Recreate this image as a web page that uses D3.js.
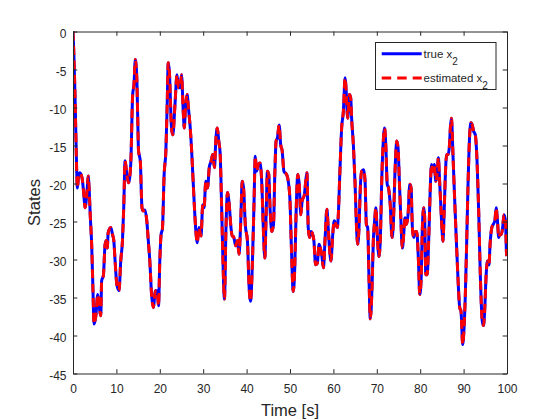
<!DOCTYPE html>
<html>
<head>
<meta charset="utf-8">
<script src="https://cdn.jsdelivr.net/npm/d3@7"></script>
<style>
  html, body { margin: 0; padding: 0; background: #ffffff; }
  svg { display: block; }
  text { font-family: "Liberation Sans", Arial, Helvetica, sans-serif; fill: #262626; }
</style>
</head>
<body>
<svg id="chart" width="560" height="420"></svg>
<script>
// ---- data ----
const timeS = [0,0.2,0.46,0.85,1.0,1.3,1.6,2.1,2.5,2.76,3.0,3.3,3.5,3.7,4.0,4.3,4.6,4.84,5.1,5.3,5.7,6.06,6.4,6.6,7.0,7.4,7.7,7.9,8.1,8.7,9.1,9.4,9.7,10.1,10.6,11.0,11.4,11.7,12.0,12.4,12.8,13.3,13.75,14.05,14.36,14.7,14.9,15.1,15.5,15.9,16.2,16.6,17.0,17.35,17.7,18.1,18.5,19.0,19.4,19.7,20.0,20.3,20.6,21.0,21.4,21.7,21.95,22.2,22.7,23.0,23.5,23.96,24.3,24.7,25.0,25.4,25.65,25.9,26.3,26.6,26.96,27.3,27.95,28.3,28.65,29.0,29.5,29.9,30.2,30.6,31.0,31.4,31.8,32.2,32.6,32.9,33.25,33.6,33.9,34.2,34.5,34.9,35.25,35.6,36.0,36.4,36.7,37.0,37.5,37.9,38.25,38.6,39.0,39.3,39.7,40.2,40.55,40.9,41.3,41.7,42.0,42.3,42.7,43.1,43.5,43.85,44.2,44.5,44.8,45.1,45.4,45.8,46.2,46.5,46.8,47.1,47.5,47.85,48.2,48.6,49.2,49.6,50.0,50.3,50.75,51.1,51.4,51.8,52.1,52.5,52.8,53.3,53.6,53.9,54.2,54.5,54.8,55.1,55.5,55.9,56.3,56.7,57.0,57.3,57.7,58.1,58.5,58.8,59.1,59.45,59.8,60.2,60.6,60.9,61.1,61.5,61.9,62.3,62.7,62.9,63.3,63.7,64.0,64.2,64.6,65.0,65.3,65.6,65.9,66.2,66.5,67.0,67.3,67.6,67.9,68.2,68.5,68.9,69.2,69.5,69.8,70.1,70.5,70.8,71.2,71.5,71.8,72.1,72.4,72.7,73.1,73.5,73.8,74.2,74.6,74.9,75.2,75.5,75.9,76.2,76.5,76.8,77.2,77.6,77.9,78.2,78.5,78.9,79.2,79.6,79.9,80.2,80.5,80.8,81.0,81.3,81.6,82.0,82.3,82.6,82.9,83.25,83.6,83.9,84.2,84.4,84.7,85.0,85.25,85.5,85.8,86.1,86.4,86.7,87.0,87.2,87.55,87.9,88.3,88.7,89.1,89.4,89.8,90.1,90.4,90.7,91.0,91.4,91.7,92.0,92.3,92.7,93.1,93.5,93.85,94.3,94.6,94.85,95.2,95.5,95.85,96.1,96.5,96.8,97.2,97.5,97.8,98.1,98.4,98.7,99.0,99.3,99.65,99.9,100];

const trueX2 = [0,-3,-8.3,-18.3,-20.6,-19.0,-18.6,-19.3,-21.5,-23.2,-22.5,-20.5,-19.0,-20.5,-24.5,-28,-34,-38.5,-38.0,-37.2,-34.6,-36.3,-37.4,-32.8,-32.1,-28,-27.5,-28.5,-26.5,-25.8,-26.7,-27.5,-30.2,-33.3,-34.1,-30.2,-27.5,-23,-17,-18.8,-19.9,-17.5,-8.3,-7,-3.7,-6.1,-11,-15.7,-17,-23.2,-23.6,-23.5,-24.9,-27.5,-30.2,-34.6,-36.3,-34.1,-34.1,-36.1,-30.2,-26.7,-26,-18.8,-15.7,-9.6,-4.1,-5.2,-12.7,-13.6,-9.6,-5.7,-7.4,-7.4,-5.7,-10.5,-12.7,-10.1,-8.3,-10.1,-12.3,-15.3,-22.8,-26.2,-27.8,-25.8,-26.9,-22.8,-23.2,-19.7,-20.6,-17.9,-17.1,-16.2,-17.9,-14.4,-12.7,-14.5,-16,-22,-29,-35.2,-25.8,-21.2,-22.8,-25.8,-26.9,-27,-28.2,-27.5,-29.3,-25.8,-19.7,-20.6,-25.4,-27.6,-33.3,-35.5,-31.1,-22.8,-16.4,-18.4,-17.5,-17.3,-20,-25.8,-29.8,-24.1,-18.4,-18.8,-23.2,-26.3,-25.4,-18.8,-14.4,-14,-12.3,-14.9,-15.7,-18.4,-18.8,-19.7,-22.3,-28,-34.2,-31,-24,-18.8,-19.9,-24.1,-22.3,-21.5,-19.9,-18.6,-25.8,-27.1,-26.3,-26.5,-27.5,-30.7,-30.5,-28,-28.5,-29.3,-31.1,-27.1,-23.4,-25.8,-28.5,-30.2,-27.1,-24.9,-25.4,-25.8,-24.5,-18.4,-12.7,-10.5,-6.1,-7.4,-11.4,-8.3,-8.8,-11.4,-14.9,-20.1,-25.4,-28,-25.8,-20.6,-18.4,-18.2,-19.7,-25.4,-25.8,-32.4,-37.8,-33.7,-27.5,-24.9,-23.2,-26.7,-29.6,-27.5,-18.4,-14.4,-12.7,-15.3,-20.1,-20.6,-22.8,-27.1,-25.4,-18.4,-14.4,-15.3,-19.7,-24.1,-28.5,-26.7,-24.5,-25.4,-24.1,-20.1,-20.6,-25.8,-27.1,-26.3,-26.3,-30.2,-34.6,-32.8,-25.8,-23.2,-24.1,-32,-32,-26.7,-21,-17.5,-18.4,-17.5,-19.7,-18.8,-16.6,-18.8,-22.3,-25.8,-27.6,-24.1,-18.8,-16.2,-16.2,-15.3,-12.3,-11.4,-16.2,-21.5,-27.1,-32.4,-36.3,-36.8,-41.2,-39,-34.6,-28,-20.6,-13.6,-12,-12.3,-13.1,-13.6,-17.1,-24.1,-32,-38.1,-38.7,-36.8,-32,-30.2,-30.7,-28,-25.8,-25.4,-24.9,-23.2,-24.9,-27.1,-26.7,-26.7,-25.8,-24.1,-24.9,-29.3,-29.5];

// the estimate lies on top of the true state everywhere in the reference
const estimatedX2 = trueX2;

const xTicks = [0,10,20,30,40,50,60,70,80,90,100];
const yTicks = [0,-5,-10,-15,-20,-25,-30,-35,-40,-45];
const seriesNames = ["true x", "estimated x"];
const seriesSub = ["2", "2"];

// ---- layout ----
const svg = d3.select("#chart");
const pL = 73, pR = 507, pT = 31.5, pB = 373.5;
const axisColor = "#262626";

const x = d3.scaleLinear().domain([0, 100]).range([pL, pR]);
const y = d3.scaleLinear().domain([-45, 0]).range([pB, pT]);

svg.append("rect").attr("x", 0).attr("y", 0).attr("width", 560).attr("height", 420).attr("fill", "#ffffff");

const clipId = "plotclip";
svg.append("clipPath").attr("id", clipId).append("rect")
  .attr("x", pL).attr("y", pT - 2).attr("width", pR - pL).attr("height", pB - pT + 4);

// lines
const pts = timeS.map((t, i) => [t, trueX2[i]]);
const ptsEst = timeS.map((t, i) => [t, estimatedX2[i]]);
const line = d3.line().x(d => x(d[0])).y(d => y(d[1])).curve(d3.curveMonotoneX);

const g = svg.append("g").attr("clip-path", `url(#${clipId})`);
g.append("path").attr("d", line(pts)).attr("fill", "none")
  .attr("stroke", "#0000ff").attr("stroke-width", 3).attr("stroke-linejoin", "round");
g.append("path").attr("d", line(ptsEst)).attr("fill", "none")
  .attr("stroke", "#ff0000").attr("stroke-width", 3).attr("stroke-dasharray", "9,5.5");

// axes (box with inward ticks on all four sides)
const tickLen = 4.3;
const plainFmt = d => String(d);
const axB = d3.axisBottom(x).tickValues(xTicks).tickSizeInner(-tickLen).tickSizeOuter(0).tickPadding(11).tickFormat(plainFmt);
const axT = d3.axisTop(x).tickValues(xTicks).tickSizeInner(-tickLen).tickSizeOuter(0).tickFormat("");
const axL = d3.axisLeft(y).tickValues(yTicks).tickSizeInner(-tickLen).tickSizeOuter(0).tickPadding(6.5).tickFormat(plainFmt);
const axR = d3.axisRight(y).tickValues(yTicks).tickSizeInner(-tickLen).tickSizeOuter(0).tickFormat("");

function style(sel) {
  sel.select(".domain").attr("stroke", axisColor).attr("stroke-width", 1);
  sel.selectAll(".tick line").attr("stroke", axisColor).attr("stroke-width", 1);
  sel.selectAll(".tick text").attr("fill", axisColor)
    .style("font-family", '"Liberation Sans", Arial, sans-serif').style("font-size", "12px");
}
svg.append("g").attr("transform", `translate(0,${pB})`).call(axB).call(style);
svg.append("g").attr("transform", `translate(0,${pT})`).call(axT).call(style);
svg.append("g").attr("transform", `translate(${pL},0)`).call(axL).call(style)
  .selectAll(".tick text").attr("dy", "0.52em");
svg.append("g").attr("transform", `translate(${pR},0)`).call(axR).call(style);

// axis labels
svg.append("text").attr("x", (pL + pR) / 2).attr("y", 416)
  .attr("text-anchor", "middle").style("font-size", "16.5px").text("Time [s]");
svg.append("text").attr("transform", `translate(39.5,${(pT + pB) / 2}) rotate(-90)`)
  .attr("text-anchor", "middle").style("font-size", "16.5px").text("States");

// legend
const lg = svg.append("g");
lg.append("rect").attr("x", 375.5).attr("y", 42.5).attr("width", 120.5).attr("height", 47)
  .attr("fill", "#ffffff").attr("stroke", axisColor).attr("stroke-width", 1);
const legendStyles = [
  { color: "#0000ff", dash: null, y: 53.7 },
  { color: "#ff0000", dash: "9.5,6", y: 78 }
];
seriesNames.forEach((name, i) => {
  const s = legendStyles[i];
  const ln = lg.append("line").attr("x1", 381.7).attr("x2", 421.7).attr("y1", s.y).attr("y2", s.y)
    .attr("stroke", s.color).attr("stroke-width", 3);
  if (s.dash) ln.attr("stroke-dasharray", s.dash);
  const t = lg.append("text").attr("x", 423.5).attr("y", s.y + 4).style("font-size", "11.5px");
  t.append("tspan").text(name);
  t.append("tspan").attr("dy", 7).style("font-size", "10px").text(seriesSub[i]);
});
</script>
</body>
</html>
